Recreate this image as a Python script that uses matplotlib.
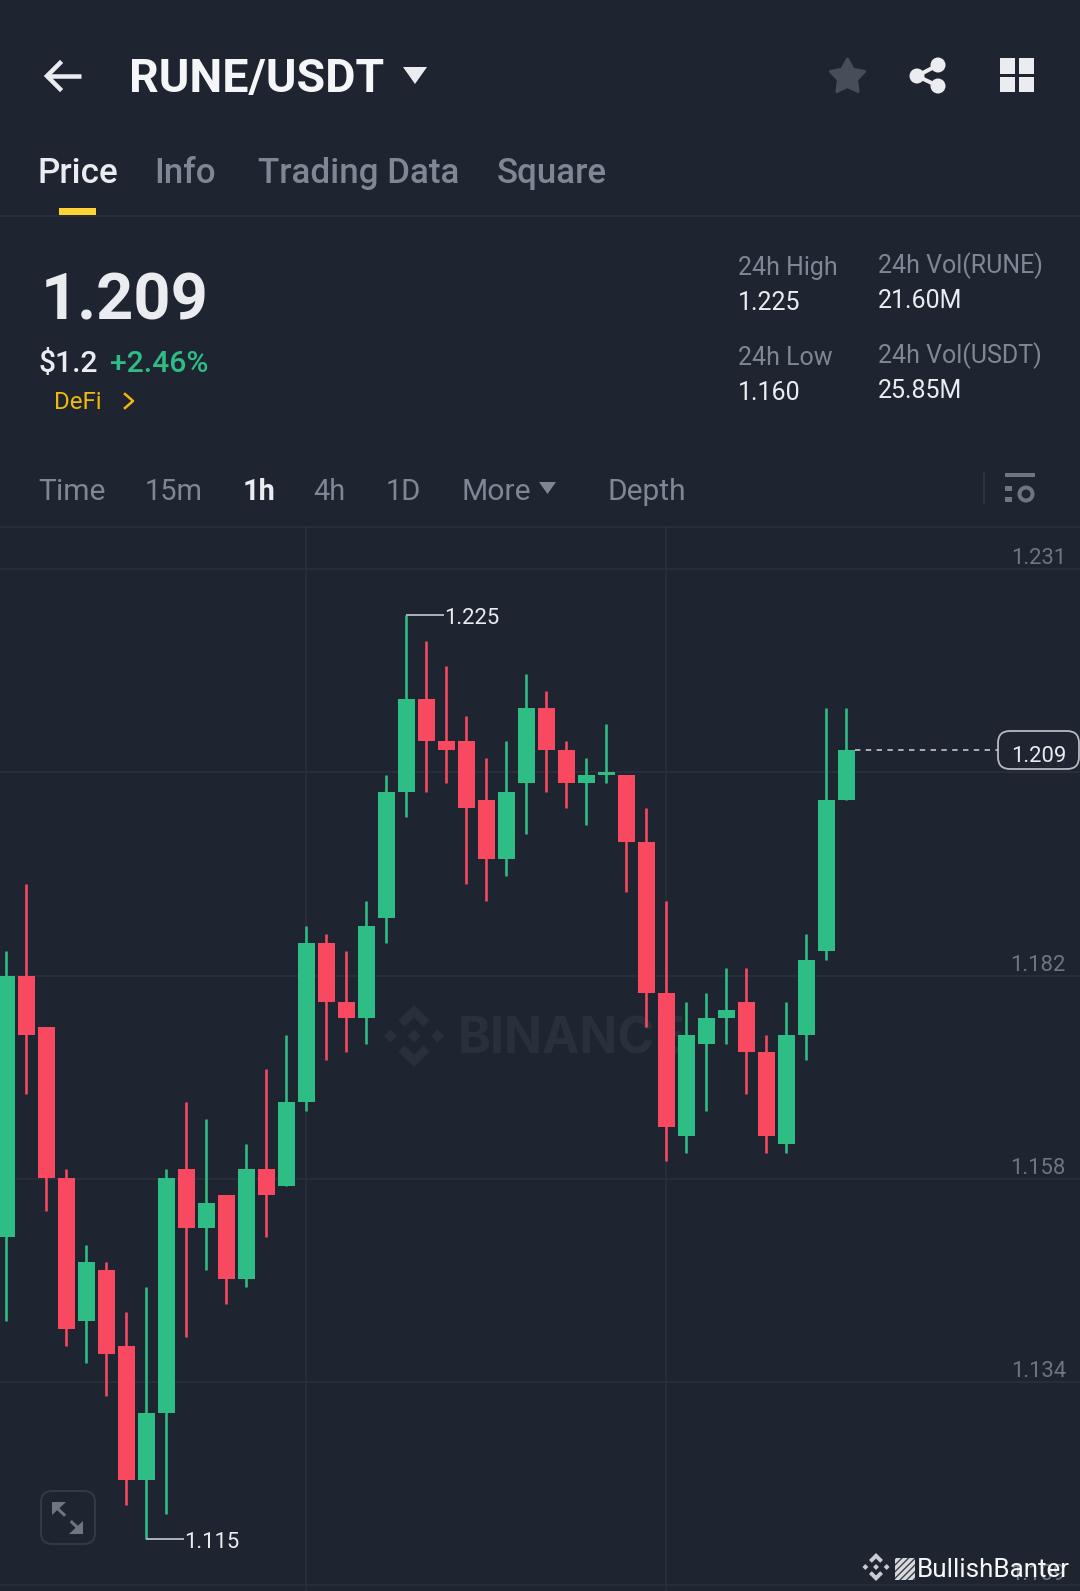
import numpy as np
import matplotlib
matplotlib.use('Agg')
import matplotlib.pyplot as plt
from matplotlib.patches import Polygon, Rectangle, Circle, FancyBboxPatch

plt.rcParams['font.family'] = ['Roboto', 'DejaVu Sans']

# === Data ===
opens = [1.151, 1.182, 1.176, 1.158, 1.141, 1.147, 1.138, 1.122, 1.130, 1.159, 1.152,
         1.156, 1.146, 1.159, 1.157, 1.167, 1.186, 1.179, 1.177, 1.189, 1.204, 1.215,
         1.210, 1.210, 1.203, 1.196, 1.205, 1.214, 1.209, 1.205, 1.206, 1.206, 1.198,
         1.180, 1.163, 1.174, 1.177, 1.179, 1.173, 1.162, 1.175, 1.185, 1.203]
highs = [1.185, 1.193, 1.176, 1.159, 1.150, 1.148, 1.142, 1.145, 1.159, 1.167, 1.165,
         1.156, 1.162, 1.171, 1.175, 1.188, 1.187, 1.185, 1.191, 1.206, 1.225, 1.222,
         1.219, 1.213, 1.208, 1.210, 1.218, 1.216, 1.210, 1.208, 1.212, 1.206, 1.202,
         1.191, 1.179, 1.180, 1.183, 1.183, 1.175, 1.179, 1.187, 1.214, 1.214]
lows = [1.141, 1.168, 1.154, 1.138, 1.136, 1.132, 1.119, 1.115, 1.118, 1.139, 1.147,
        1.143, 1.145, 1.151, 1.157, 1.166, 1.172, 1.173, 1.174, 1.186, 1.201, 1.204,
        1.205, 1.193, 1.191, 1.194, 1.199, 1.204, 1.202, 1.200, 1.205, 1.192, 1.176,
        1.160, 1.161, 1.166, 1.174, 1.168, 1.161, 1.161, 1.172, 1.184, 1.203]
closes = [1.182, 1.175, 1.158, 1.140, 1.148, 1.137, 1.122, 1.130, 1.158, 1.152, 1.155,
          1.146, 1.159, 1.156, 1.167, 1.186, 1.179, 1.177, 1.188, 1.204, 1.215, 1.210,
          1.209, 1.202, 1.196, 1.204, 1.214, 1.209, 1.205, 1.206, 1.2063, 1.198, 1.180,
          1.164, 1.175, 1.177, 1.178, 1.173, 1.163, 1.175, 1.184, 1.203, 1.209]

grid_prices = [1.2305, 1.2063, 1.1821, 1.1579, 1.1337, 1.1095]
grid_labels = ['1.231', '1.206', '1.182', '1.158', '1.134', '1.109']
grid_candles = [15, 33]

last_price = 1.209
high_idx, high_price = 20, 1.225
low_idx, low_price = 7, 1.115

BG = '#1f2530'
GRID = '#2c323d'
GREEN = '#2ebd85'
RED = '#f84960'
WHITE = '#eaecef'
GREY = '#7f8794'
AXIS_GREY = '#6f7681'

fig = plt.figure(figsize=(10.8, 15.91), dpi=100, facecolor=BG)

# pixel overlay for the app chrome
ui = fig.add_axes([0, 0, 1, 1], zorder=2)
ui.set_xlim(0, 1080)
ui.set_ylim(1591, 0)
ui.axis('off')

# candle axes, x is the candle number
ax = fig.add_axes([0, 0, 1, (1591 - 527) / 1591], zorder=1)
ax.set_facecolor('none')
ax.set_xlim(-0.315, 53.685)
ax.set_ylim(1.10879, 1.23552)
for s in ax.spines.values():
    s.set_visible(False)
ax.set_xticks(grid_candles)
ax.set_yticks(grid_prices)
ax.tick_params(length=0, labelleft=False, labelbottom=False)
ax.grid(True, color=GRID, linewidth=1.1)
ax.set_axisbelow(True)


def px(size):
    return size * 0.72


def label(x, y, s, size, color=WHITE, weight='normal', ha='left', **kw):
    return ui.text(x, y, s, fontsize=px(size), color=color, fontweight=weight, ha=ha,
                   va='baseline', **kw)


def binance_logo(cx, cy, r, color, axes, zorder):
    top = [(0, -1), (0.5, -0.5), (0.3, -0.3), (0, -0.6), (-0.3, -0.3), (-0.5, -0.5)]
    shapes = [top, [(x, -y) for x, y in top]]
    for dx in (-0.76, 0, 0.76):
        shapes.append([(dx, -0.21), (dx + 0.21, 0), (dx, 0.21), (dx - 0.21, 0)])
    for pts in shapes:
        axes.add_patch(Polygon([(cx + x * r, cy + y * r) for x, y in pts], closed=True,
                               facecolor=color, edgecolor='none', zorder=zorder,
                               transform=ui.transData))


# === Watermark under the candles ===
binance_logo(414, 1036, 31, '#2a303b', ax, 0.5)
ax.text(458, 1054, 'BINANCE', fontsize=px(50), color='#2a303b', fontweight='bold',
        family='Inter', va='baseline', transform=ui.transData, zorder=0.5)

# === Candles ===
for i in range(len(opens)):
    color = GREEN if closes[i] >= opens[i] else RED
    ax.vlines(i, lows[i], highs[i], color=color, linewidth=px(2.6), zorder=3)
    ax.bar(i, abs(closes[i] - opens[i]), bottom=min(opens[i], closes[i]), width=0.87,
           color=color, linewidth=0, zorder=3)

# price axis labels, sitting on top of their grid lines
for p, lab in zip(grid_prices, grid_labels):
    ax.annotate(lab, xy=(1066 / 1080, p), xycoords=('axes fraction', 'data'),
                xytext=(0, 0), textcoords='offset pixels', ha='right', va='bottom',
                fontsize=px(22), color=AXIS_GREY, zorder=2)

# high and low markers
for idx, price, lab, y_off in [(high_idx, high_price, '1.225', -3),
                               (low_idx, low_price, '1.115', -4)]:
    ax.plot([idx, idx + 1.87], [price, price], color='#a9afb8', linewidth=px(2), zorder=3,
            solid_capstyle='butt')
    ax.annotate(lab, xy=(idx + 1.87, price), xytext=(0, y_off), textcoords='offset pixels',
                ha='left', va='center', fontsize=px(22), color=WHITE, zorder=4)

# last price line and tag
ax.plot([len(opens) - 1 + 0.45, 49.7], [last_price, last_price], color='#b5bac2',
        linewidth=px(1.8), linestyle=(0, (3, 3)), zorder=3)
ui.add_patch(FancyBboxPatch((1008, 741), 61, 18, boxstyle='round,pad=10,rounding_size=12',
                            facecolor=BG, edgecolor='#c3c7cd', linewidth=px(1.8), alpha=0.92))
label(1039, 762, '1.209', 22, WHITE, ha='center')

# === Header ===
ui.plot([46, 81], [76, 76], color=WHITE, linewidth=px(4.5), solid_capstyle='butt')
ui.plot([60, 47, 60], [63, 76, 89], color=WHITE, linewidth=px(4.5), solid_joinstyle='miter')
label(129, 92, 'RUNE/USDT', 46.5, '#f5f6f7', 'bold')
ui.add_patch(Polygon([(403, 67), (427, 67), (415, 84)], closed=True, facecolor=WHITE))

# star, five outer and five inner points
angles = -np.pi / 2 + np.arange(10) * np.pi / 5
radii = np.where(np.arange(10) % 2 == 0, 18.0, 9.5)
ui.add_patch(Polygon(np.column_stack([847.5 + radii * np.cos(angles), 77 + radii * np.sin(angles)]),
                     closed=True, facecolor='#474e59', edgecolor='#474e59',
                     linewidth=px(3), joinstyle='round'))

# share icon
for cx, cy in [(938, 65), (917, 76), (938, 86)]:
    ui.add_patch(Circle((cx, cy), 7.5, facecolor=WHITE))
ui.plot([938, 917, 938], [65, 76, 86], color=WHITE, linewidth=px(4))

# layout icon
for x0 in (1000, 1019):
    for y0, h in ((58, 15.5), (77, 15)):
        ui.add_patch(Rectangle((x0, y0), 15, h, facecolor=WHITE))

# === Tabs ===
label(38, 183, 'Price', 35, WHITE, 'medium')
label(154, 183, 'Info', 35, GREY, 'medium')
label(258, 183, 'Trading Data', 35, GREY, 'medium')
label(497, 183, 'Square', 35, GREY, 'medium')
ui.add_patch(Rectangle((59, 208), 37, 7, facecolor='#fcd535'))
ui.plot([0, 1080], [216, 216], color=GRID, linewidth=px(1.5))

# === Price block ===
label(41, 319, '1.209', 65, WHITE, 'bold')
label(39, 372, '$1.2', 30, WHITE, 'medium')
label(110, 372, '+2.46%', 30, GREEN, 'medium')
label(54, 409, 'DeFi', 24, '#f0b90b')
ui.plot([125, 133, 125], [394, 401, 408], color='#f0b90b', linewidth=px(2.5))

label(738, 275, '24h High', 25, GREY)
label(738, 310, '1.225', 25, WHITE)
label(738, 365, '24h Low', 25, GREY)
label(738, 400, '1.160', 25, WHITE)
label(878, 273, '24h Vol(RUNE)', 25, GREY)
label(878, 308, '21.60M', 25, WHITE)
label(878, 363, '24h Vol(USDT)', 25, GREY)
label(878, 398, '25.85M', 25, WHITE)

# === Interval row ===
label(38, 500, 'Time', 30, GREY)
label(145, 500, '15m', 29, GREY)
label(243, 500, '1h', 29, WHITE, 'bold')
label(313, 500, '4h', 29, GREY)
label(386, 500, '1D', 29, GREY)
label(462, 500, 'More', 30, GREY)
ui.add_patch(Polygon([(539, 482), (556, 482), (547.5, 494)], closed=True, facecolor=GREY))
label(608, 500, 'Depth', 30, GREY)
ui.plot([983.5, 983.5], [473, 504], color='#343a45', linewidth=px(1.5))
ui.add_patch(Rectangle((1005, 473), 30, 3.5, facecolor=AXIS_GREY))
ui.add_patch(Rectangle((1005, 486), 7, 5, facecolor=AXIS_GREY))
ui.add_patch(Rectangle((1005, 497), 7, 5, facecolor=AXIS_GREY))
ui.add_patch(Circle((1026, 494), 6.5, facecolor='none', edgecolor=AXIS_GREY, linewidth=px(4)))
ui.plot([0, 1080], [527, 527], color=GRID, linewidth=px(1.5))

# === Expand button ===
ui.add_patch(FancyBboxPatch((49, 1499), 38, 37, boxstyle='round,pad=8,rounding_size=11',
                            facecolor='none', edgecolor='#343a45', linewidth=px(2)))
ui.add_patch(Polygon([(52, 1502), (66, 1502), (52, 1515)], closed=True, facecolor=AXIS_GREY))
ui.add_patch(Polygon([(83, 1534), (69, 1534), (83, 1521)], closed=True, facecolor=AXIS_GREY))
ui.plot([56, 79], [1507, 1529], color=AXIS_GREY, linewidth=px(3), dashes=(4.2, 2.6))

# === Bottom credit ===
binance_logo(876, 1567, 14, '#c9ccd0', ui, 4)
ui.add_patch(Rectangle((895, 1558), 20, 22, facecolor='#d8dadd', edgecolor='#3a3f48',
                       hatch='/////', linewidth=0, zorder=4))
ui.text(917, 1577, 'BullishBanter', fontsize=px(26), color='#f5f6f7', va='baseline', zorder=5)

fig.savefig('out.png', dpi=100, facecolor=BG)
